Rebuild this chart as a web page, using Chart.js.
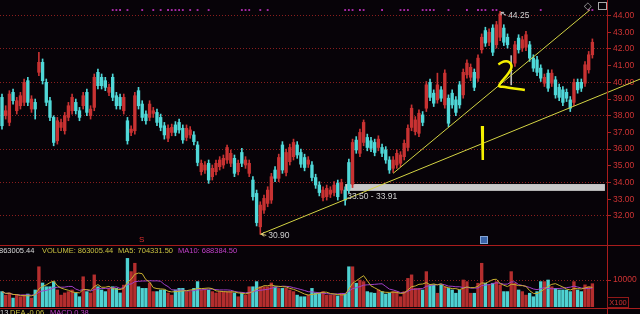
<!DOCTYPE html>
<html><head><meta charset="utf-8">
<script src="https://cdn.jsdelivr.net/npm/chart.js@4.4.1/dist/chart.umd.min.js"></script>
<style>
html,body{margin:0;padding:0;background:#070308;}
#wrap{position:relative;width:640px;height:314px;overflow:hidden;background:#070308;font-family:"Liberation Sans",Arial,sans-serif;}
canvas{position:absolute;left:0;}
.t{position:absolute;font-size:7.5px;line-height:10px;white-space:nowrap;}
.ln{position:absolute;background:#a81c1c;}
</style></head><body>
<div id="wrap">
<canvas id="price" width="640" height="245" style="top:0"></canvas>
<canvas id="vol" width="640" height="51" style="top:256px"></canvas>
<div class="ln" style="left:607px;top:0;width:1px;height:314px"></div>
<div class="ln" style="left:0;top:245px;width:640px;height:1px"></div>
<div class="ln" style="left:0;top:308px;width:640px;height:1px"></div>
<div class="t" style="left:-1px;top:246px;color:#d8d8d8">863005.44</div>
<div class="t" style="left:42px;top:246px;color:#c8c040">VOLUME: 863005.44</div>
<div class="t" style="left:118px;top:246px;color:#c8c040">MA5: 704331.50</div>
<div class="t" style="left:178px;top:246px;color:#c040c8">MA10: 688384.50</div>
<div class="t" style="left:0;top:308px;color:#d8d8d8">13</div>
<div class="t" style="left:10px;top:308px;color:#c8c040">DEA -0.06</div>
<div class="t" style="left:50px;top:308px;color:#c040c8">MACD 0.38</div>
<div class="t" style="left:607px;top:297px;width:20px;height:9px;line-height:9px;border:1px solid #901818;color:#c83232;text-align:center">X100</div>
<div class="t" style="left:139px;top:235px;color:#e03030;font-size:8px">S</div>
<div style="position:absolute;left:480px;top:236px;width:6px;height:6px;background:#3a64a8;border:1px solid #86a6d6"></div>
<div class="t" style="left:584px;top:0;color:#a8a8a8;font-size:10px;line-height:11px">◇</div>
<div style="position:absolute;left:598px;top:2px;width:7px;height:6px;border:1px solid #a8a8a8"></div>
</div>
<script>
// ---- data ----
const open = [
39.1,38.0,37.6,39.4,38.3,38.6,38.8,40.1,38.4,38.8,
40.6,41.2,40.0,38.9,37.9,36.5,37.3,37.1,37.9,38.3,
38.8,38.3,38.6,39.4,38.0,38.5,40.6,40.3,40.1,39.4,
40.3,39.2,39.1,38.3,37.7,37.0,37.1,39.5,38.7,38.1,
37.9,38.14,38.2,37.9,37.4,36.65,37.0,37.45,37.6,37.25,
36.7,36.85,36.85,36.25,34.65,34.75,35.15,34.35,34.65,34.95,
35.05,35.35,35.15,35.45,34.65,35.8,35.05,34.55,34.15,33.35,
31.35,32.35,32.75,32.95,34.75,34.25,36.25,34.6,35.25,35.55,
36.25,35.8,35.5,35.1,35.05,34.3,33.85,33.1,33.15,33.3,
33.4,33.95,33.55,33.55,35.2,33.9,36.54,35.75,36.4,36.7,
36.5,36.4,36.1,36.1,35.95,35.35,34.85,35.05,35.15,35.55,
36.1,37.3,37.05,36.95,38.05,38.45,40.0,39.35,38.95,39.55,
38.65,39.05,39.35,38.95,39.85,39.25,40.45,40.3,40.6,40.25,
41.95,43.1,42.4,43.25,42.25,42.7,43.25,42.7,40.7,41.15,
42.65,42.05,42.1,42.25,41.45,41.35,40.85,39.95,40.55,39.95,
40.15,39.7,39.55,39.4,38.95,38.8,40.0,40.0,39.95,40.75,
41.65];
const close = [
37.4,38.3,39.3,38.9,38.9,39.2,40.0,38.8,39.0,38.4,
41.2,40.1,38.8,37.9,36.4,37.7,37.6,38.0,38.6,39.1,
38.3,37.9,39.2,38.2,38.4,40.3,39.8,39.8,39.7,39.7,
39.1,38.6,38.6,39.1,36.5,37.2,39.2,38.6,37.9,37.7,
38.7,38.3,37.6,37.3,36.85,37.25,37.3,37.0,37.15,36.55,
37.25,37.15,36.45,35.2,35.15,35.05,34.15,34.85,35.15,35.35,
35.45,36.1,35.75,34.55,35.15,35.15,35.35,35.15,33.15,31.6,
32.65,33.05,33.55,34.35,34.25,35.5,34.75,35.8,36.1,36.4,
35.65,35.1,34.9,35.35,34.3,33.85,33.4,33.55,33.65,33.55,
33.85,33.15,34.0,32.95,33.6,36.4,35.95,37.0,37.6,36.1,
36.05,35.8,36.6,35.75,35.35,34.75,35.35,35.75,35.65,36.35,
37.25,38.45,37.75,38.15,37.6,39.85,39.1,38.75,39.85,39.05,
40.55,37.55,38.65,38.2,38.65,40.6,41.15,40.9,39.7,41.45,
42.7,42.35,43.0,41.8,43.45,44.1,42.4,42.25,40.7,42.25,
41.95,42.55,42.85,41.45,40.85,40.6,40.25,40.3,39.65,40.55,
39.25,39.1,38.8,39.05,38.45,40.0,39.55,39.65,41.05,41.65,
42.4];
const high = [
39.3,38.6,39.5,39.6,39.1,39.4,40.2,40.3,39.2,39.0,
41.8,41.4,40.2,39.1,38.0,37.9,37.8,38.2,38.8,39.3,
39.0,38.5,39.4,39.6,38.6,40.5,40.8,40.5,40.3,39.9,
40.5,39.4,39.3,39.3,37.9,37.4,39.4,39.7,38.9,38.3,
38.9,38.5,38.4,38.1,37.6,37.45,37.5,37.65,37.8,37.45,
37.45,37.35,37.05,36.45,35.35,35.25,35.35,35.05,35.35,35.55,
35.65,36.25,35.95,35.65,35.35,36.05,35.55,35.35,34.35,33.55,
32.85,33.25,33.75,34.55,34.95,35.7,36.45,36.0,36.3,36.6,
36.45,36.0,35.7,35.55,35.25,34.5,34.05,33.75,33.85,33.75,
34.05,34.15,34.2,33.75,35.4,36.6,36.75,37.2,37.75,36.9,
36.7,36.6,36.8,36.3,36.15,35.55,35.55,35.95,35.85,36.55,
37.45,38.65,37.95,38.35,38.25,40.05,40.2,39.55,40.55,39.75,
40.75,39.25,39.55,39.15,40.05,40.8,41.35,41.1,40.8,41.65,
42.9,43.3,43.2,43.45,43.65,44.25,43.45,42.9,41.6,42.45,
42.85,42.75,43.05,42.45,41.65,41.55,41.05,40.5,40.75,40.75,
40.35,39.9,39.75,39.6,39.15,40.2,40.2,40.2,41.25,41.85,
42.6];
const low = [
37.2,37.8,37.4,38.7,38.1,38.4,38.6,38.6,38.2,37.8,
40.4,39.9,38.6,37.7,36.2,36.3,37.1,36.9,37.7,38.1,
38.1,37.7,38.4,38.0,37.8,38.3,39.6,39.6,39.5,39.2,
38.9,38.4,38.4,38.1,36.3,36.8,36.9,38.4,37.7,37.5,
37.7,37.9,37.4,37.1,36.6,36.45,36.8,36.8,36.95,36.35,
36.5,36.65,36.25,35.0,34.45,34.55,33.95,34.15,34.45,34.75,
34.85,35.15,34.95,34.35,34.45,34.95,34.85,34.35,32.95,31.4,
30.9,32.15,32.55,32.75,34.05,34.05,34.55,34.4,35.05,35.35,
35.45,34.9,34.7,34.9,34.1,33.65,33.2,32.9,32.95,33.1,
33.2,32.95,33.35,32.65,33.4,33.7,35.75,35.55,36.2,35.9,
35.85,35.6,35.9,35.55,35.15,34.55,34.6,34.85,34.95,35.35,
35.9,37.1,36.85,36.75,37.4,38.25,38.9,38.55,38.75,38.85,
38.45,37.35,38.45,38.0,38.45,39.05,40.25,40.1,39.5,40.05,
41.75,42.15,42.2,41.6,42.05,42.5,42.2,42.05,39.85,40.95,
41.75,41.85,41.9,41.25,40.65,40.4,40.05,39.75,39.45,39.75,
39.05,38.9,38.6,38.85,38.25,38.6,39.35,39.45,39.75,40.55,
41.45];
// volume in units of x100
const volume = [
5700,4400,5200,3300,4400,3800,4400,4800,3300,6300,
14900,8900,7500,7500,9400,6300,4400,5200,5700,6300,
5200,3800,11200,5700,5200,11900,7500,6300,5700,6900,
7500,6900,5200,8100,18000,13100,16200,7500,6900,6900,
8900,5700,5700,6300,6300,5200,4400,6300,6900,6900,
5700,5700,6900,9400,6300,6300,6300,5700,5200,5700,
5700,5700,5700,5200,3800,5200,4400,7500,7500,9400,
7500,7500,7500,8900,7500,6900,6900,6900,6300,5700,
4400,3800,3800,4400,6900,5200,5200,5700,4400,4400,
4400,4100,5100,4800,14900,14900,8800,10000,9400,5700,
5300,5100,6300,5700,4800,5100,5700,5700,3800,5700,
10600,11900,6900,6900,6300,13100,8200,8200,5100,8200,
7500,6900,6300,5100,6300,10000,9400,5100,5100,8800,
16200,8800,8200,8800,9400,8200,5700,5700,13100,8800,
6300,5700,4400,5100,3800,5700,9400,9400,10000,7500,
6900,6300,6300,6300,5700,9400,6300,5700,8200,7500,
8630];
const signalDays = [30,31,32,34,38,41,43,45,46,47,48,49,51,53,56,65,66,67,70,72,93,94,95,97,98,103,108,109,110,114,115,116,117,121,126,129,130,131,133,134,146,159,160];
const signalLevel = 44.33;
const priceTicks = [32,33,34,35,36,37,38,39,40,41,42,43,44];
const priceGridLevels = [32,34,36,38,40,42,44];
const volumeTicks = [10000];
const trendLine1 = [{x:70,y:30.90},{x:173,y:40.2}];
const trendLine2 = [{x:106,y:34.55},{x:159.3,y:44.33}];
const markOne = [{x:130.1,y:37.38},{x:130.3,y:35.35}];
const markTwo = [{x:134.5,y:41.08},{x:136.0,y:41.25},{x:137.4,y:41.22},{x:138.1,y:40.92},{x:137.1,y:40.5},{x:134.7,y:39.8},{x:136.3,y:39.72},{x:141.7,y:39.54}];
const band = {from:93, to:163.4, low:33.50, high:33.91, label:'33.50 - 33.91'};
const peakLabel = {x:135, y:44.25, text:'44.25'};
const lowLabel = {x:70, y:30.90, text:'30.90'};

// ---- setup ----
const RED = '#c83232', CYAN = '#50d8d8', GRAY = '#b8b8b8';
const days = open.map((_, i) => i);
const candleColors = days.map(i => close[i] > open[i] ? RED : (close[i] < open[i] ? CYAN : GRAY));
const volColors = days.map(i => close[i] > open[i] ? '#b42e2e' : (close[i] < open[i] ? '#4ed2d2' : '#b42e2e'));
const xMin = -0.54, xMax = 163.96;
const priceMin = 30.26, priceMax = 44.93;
const volMax = 18889;

Chart.defaults.font.family = '"Liberation Sans", Arial, sans-serif';
Chart.defaults.animation = false;

function movingAvg(arr, n) {
  return arr.map((_, i) => {
    const s = arr.slice(Math.max(0, i - n + 1), i + 1);
    return s.reduce((a, b) => a + b, 0) / s.length;
  });
}

function rightAxis(min, max, ticksArr, gridLevels, fmt) {
  return {
    position: 'right', min, max,
    afterFit(s) { s.width = 33; s.paddingTop = 0; s.paddingBottom = 0; },
    afterBuildTicks(s) { s.ticks = ticksArr.map(v => ({value: v})); },
    ticks: { color: '#d03434', padding: 2, autoSkip: false, font: {size: 8.5}, callback: fmt },
    grid: {
      color: c => (c.tick && gridLevels.includes(c.tick.value)) ? '#8a1e1e' : 'rgba(0,0,0,0)',
      tickColor: '#b02020', tickLength: 4, lineWidth: 1
    },
    border: { display: false, dash: [1, 2] }
  };
}

const annot = {
  id: 'annot',
  beforeDatasetsDraw(chart) {
    const {ctx, scales: {x, y}} = chart;
    ctx.save();
    ctx.fillStyle = '#c8c8c8';
    const x1 = x.getPixelForValue(band.from), x2 = x.getPixelForValue(band.to);
    const y1 = y.getPixelForValue(band.high), y2 = y.getPixelForValue(band.low);
    ctx.fillRect(x1, y1, x2 - x1, y2 - y1);
    ctx.restore();
  },
  afterDatasetsDraw(chart) {
    const {ctx, scales: {x, y}} = chart;
    ctx.save();
    ctx.font = '8.5px "Liberation Sans", Arial';
    ctx.textBaseline = 'middle';
    ctx.fillStyle = '#d0d0d0';
    ctx.strokeStyle = '#d0d0d0';
    ctx.lineWidth = 1;
    ctx.fillText(band.label, x.getPixelForValue(band.from) + 2, y.getPixelForValue(band.low) + 6);
    let px = x.getPixelForValue(peakLabel.x), py = y.getPixelForValue(peakLabel.y);
    ctx.beginPath(); ctx.moveTo(px + 1, py + 1); ctx.lineTo(px + 6, py + 4); ctx.moveTo(px + 1, py + 1); ctx.lineTo(px + 4, py + 1); ctx.moveTo(px + 1, py + 1); ctx.lineTo(px + 1, py + 4); ctx.stroke();
    ctx.fillText(peakLabel.text, px + 8, py + 4);
    px = x.getPixelForValue(lowLabel.x); py = y.getPixelForValue(lowLabel.y);
    ctx.strokeStyle = '#e0d080';
    ctx.beginPath(); ctx.moveTo(px + 1, py); ctx.lineTo(px + 6, py + 1); ctx.moveTo(px + 1, py); ctx.lineTo(px + 4, py - 2); ctx.moveTo(px + 1, py); ctx.lineTo(px + 4, py + 2); ctx.stroke();
    ctx.fillText(lowLabel.text, px + 8, py + 1);
    ctx.restore();
  }
};

new Chart(document.getElementById('price'), {
  type: 'bar',
  data: { datasets: [
    { label: 'wick', data: days.map(i => ({x: i, y: [low[i], high[i]]})), backgroundColor: candleColors, barThickness: 1, grouped: false, borderWidth: 0, order: 5 },
    { label: 'body', data: days.map(i => ({x: i, y: [open[i], close[i]]})), backgroundColor: candleColors, barThickness: 2.7, grouped: false, borderWidth: 0, order: 4 },
    { type: 'scatter', label: 'signal', data: signalDays.map(d => ({x: d, y: signalLevel})), pointStyle: 'rect', pointRadius: 1.3, backgroundColor: '#b02cb0', borderWidth: 0, order: 3 },
    { type: 'line', label: 'trend1', data: trendLine1, borderColor: '#d4d444', borderWidth: 1, pointRadius: 0, clip: false, order: 2 },
    { type: 'line', label: 'trend2', data: trendLine2, borderColor: '#d4d444', borderWidth: 1, pointRadius: 0, clip: false, order: 2 },
    { type: 'line', label: 'mark1', data: markOne, borderColor: '#f4f000', borderWidth: 2.5, pointRadius: 0, order: 1 },
    { type: 'line', label: 'mark2', data: markTwo, borderColor: '#f4f000', borderWidth: 2.5, pointRadius: 0, tension: 0.35, order: 1 }
  ]},
  options: {
    responsive: false, animation: false,
    layout: { padding: 0, autoPadding: false },
    plugins: { legend: {display: false}, tooltip: {enabled: false} },
    scales: {
      x: { type: 'linear', display: false, min: xMin, max: xMax, offset: false },
      y: rightAxis(priceMin, priceMax, priceTicks, priceGridLevels, v => Number(v).toFixed(2))
    }
  },
  plugins: [annot]
});

new Chart(document.getElementById('vol'), {
  type: 'bar',
  data: { datasets: [
    { type: 'line', label: 'MA5', data: movingAvg(volume, 5).map((v, i) => ({x: i, y: v})), borderColor: '#c8b030', borderWidth: 1, pointRadius: 0, order: 1 },
    { type: 'line', label: 'MA10', data: movingAvg(volume, 10).map((v, i) => ({x: i, y: v})), borderColor: '#a040c8', borderWidth: 1, pointRadius: 0, order: 2 },
    { label: 'VOLUME', data: days.map(i => ({x: i, y: volume[i]})), backgroundColor: volColors, barThickness: 2.7, grouped: false, borderWidth: 0, order: 3 }
  ]},
  options: {
    responsive: false, animation: false,
    layout: { padding: 0, autoPadding: false },
    plugins: { legend: {display: false}, tooltip: {enabled: false} },
    scales: {
      x: { type: 'linear', display: false, min: xMin, max: xMax, offset: false },
      y: rightAxis(0, volMax, volumeTicks, volumeTicks, v => String(v))
    }
  }
});
</script>
</body></html>
